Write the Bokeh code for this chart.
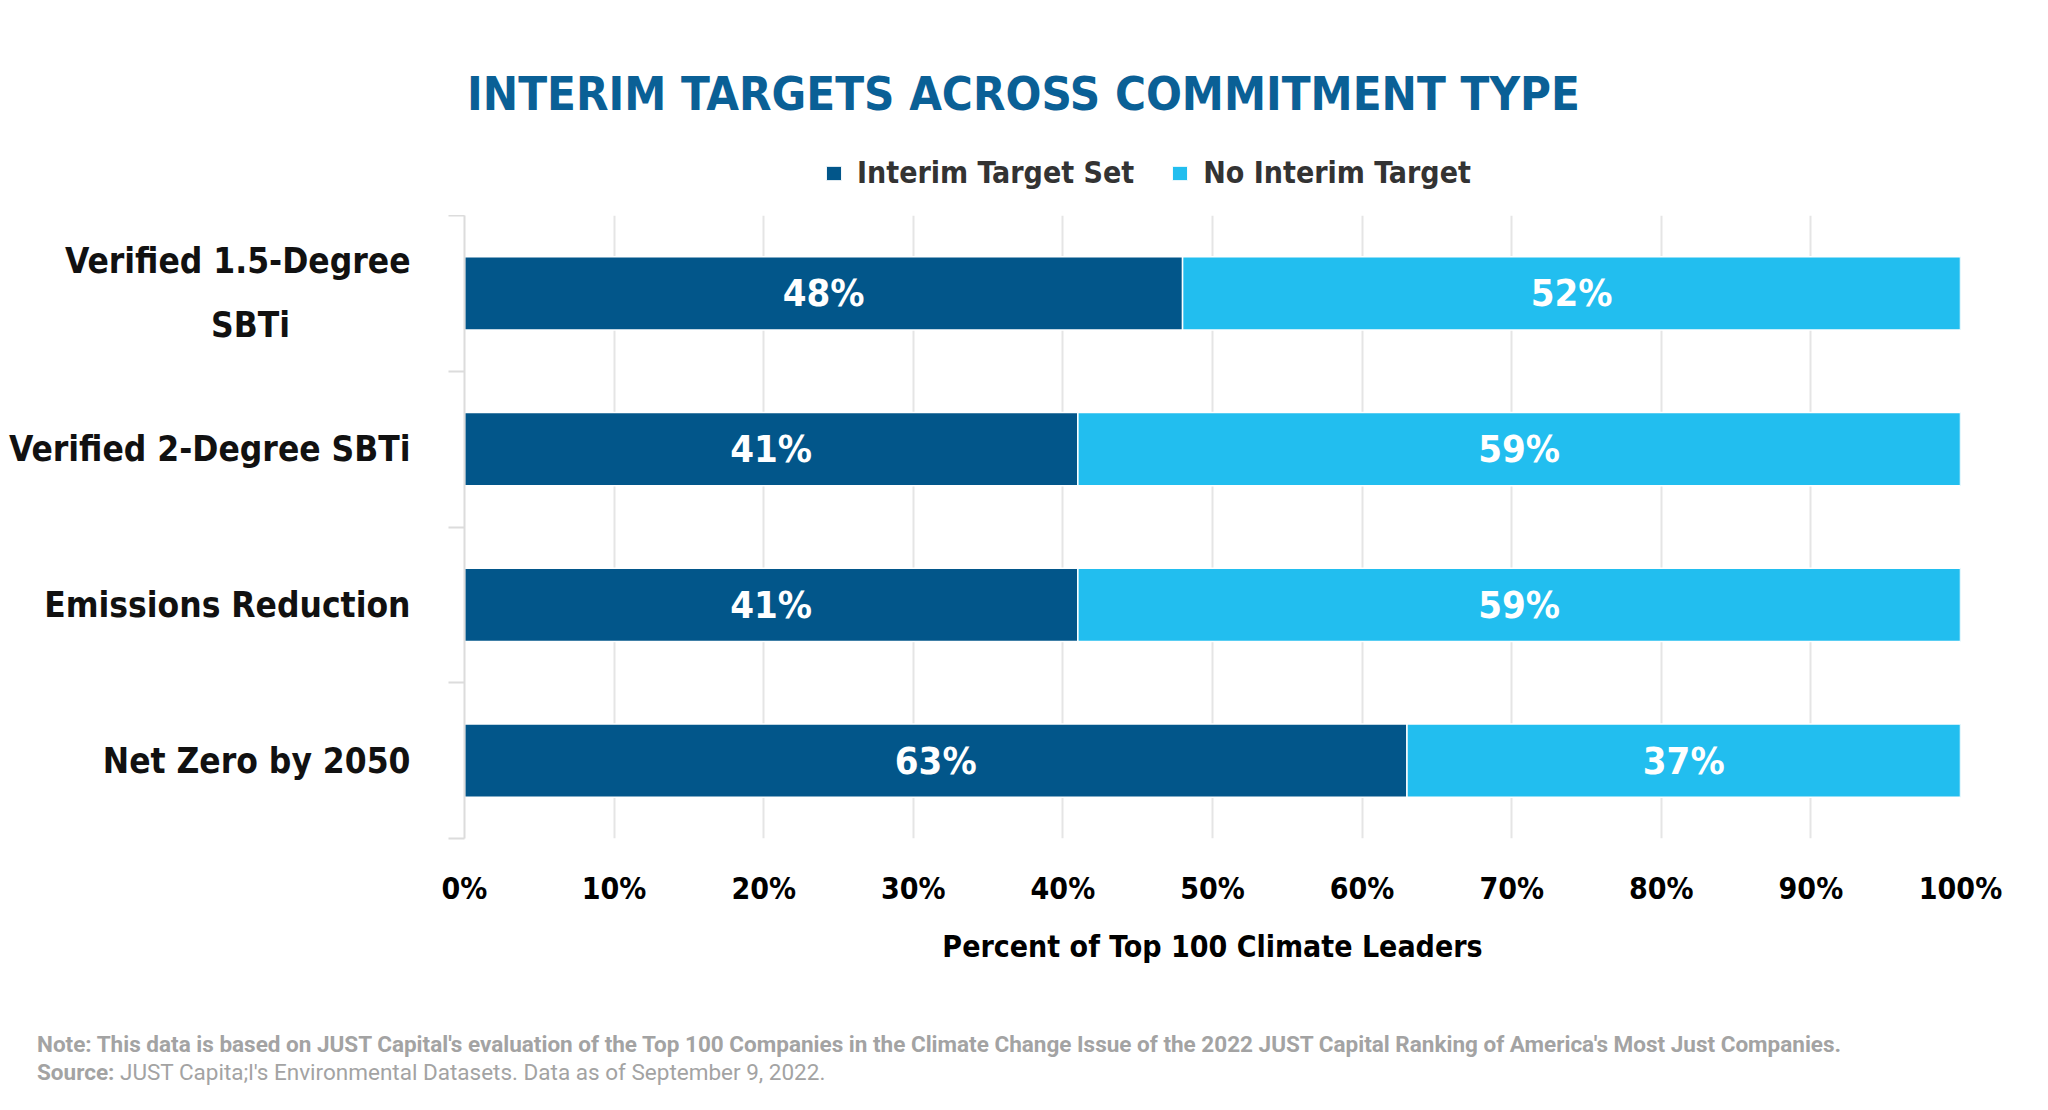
import json
import html
from bokeh.plotting import figure
from bokeh.layouts import column
from bokeh.models import (ColumnDataSource, FactorRange, Range1d, LinearAxis, CategoricalAxis,
                          FixedTicker, PrintfTickFormatter, CustomJSTickFormatter,
                          Legend, LegendItem, Label, Div)
from bokeh.core.properties import value
from bokeh.embed import file_html
from bokeh.resources import INLINE

# ---------------- data ----------------
categories = ["Verified 1.5-Degree SBTi", "Verified 2-Degree SBTi", "Emissions Reduction", "Net Zero by 2050"]
NB = "\u00a0"
category_display = ["Verified 1.5-Degree\nSBTi" + NB * 11, "Verified 2-Degree SBTi",
                    "Emissions Reduction", "Net Zero by 2050"]
interim_target_set = [48, 41, 41, 63]
no_interim_target = [52, 59, 59, 37]
x_ticks = [0, 10, 20, 30, 40, 50, 60, 70, 80, 90, 100]
series_names = ["Interim Target Set", "No Interim Target"]

title_text = "INTERIM TARGETS ACROSS COMMITMENT TYPE"
x_title = "Percent of Top 100 Climate Leaders"
note_text = ("Note: This data is based on JUST Capital's evaluation of the Top 100 Companies in the "
             "Climate Change Issue of the 2022 JUST Capital Ranking of America's Most Just Companies.")
source_bold = "Source:"
source_text = "JUST Capita;l's Environmental Datasets. Data as of September 9, 2022."

# ---------------- style ----------------
DARK = "#02568a"
LIGHT = "#22beef"
TITLE_C = "#0a6096"
COND = "'DejaVu Sans Condensed', 'Liberation Sans Narrow', 'Noto Sans', sans-serif"
NOTE_FONT = "Roboto"
NOTE_C = "#a3a3a3"

W = 2040
H_TOP, H_MAIN, H_NOTES = 215, 800, 85
LEFT, FW, FH = 464, 1496, 623
RIGHT = W - LEFT - FW

# ---------------- header strip: title + legend ----------------
head = figure(width=W, height=H_TOP, output_backend="svg", toolbar_location=None,
              x_range=Range1d(0, 1), y_range=Range1d(0, 1),
              x_axis_location=None, y_axis_location=None,
              min_border_left=LEFT, min_border_right=RIGHT, min_border_top=0, min_border_bottom=0)
head.outline_line_color = None
head.xgrid.visible = False
head.ygrid.visible = False

head.add_layout(Label(x=1023 - LEFT, y=H_TOP - 112 + 19, x_units="screen", y_units="screen",
                      text=title_text, text_align="center", text_baseline="alphabetic",
                      text_font=COND, text_font_style="bold", text_font_size="47px",
                      text_color=TITLE_C))

# legend keys (zero-size bars that only carry the series styles)
k1 = head.hbar(y=[0], left=[0], right=[0], height=0, fill_color=DARK, line_color="white")
k2 = head.hbar(y=[0], left=[0], right=[0], height=0, fill_color=LIGHT, line_color="white")
leg = Legend(items=[LegendItem(label=series_names[0], renderers=[k1]),
                    LegendItem(label=series_names[1], renderers=[k2])],
             orientation="horizontal", location=(824 - LEFT, 25),
             glyph_width=19, glyph_height=18, label_standoff=14, spacing=36,
             margin=0, padding=0, border_line_color=None, background_fill_alpha=0,
             label_text_font=COND, label_text_font_style="bold",
             label_text_font_size="30px", label_text_color="#333333")
head.add_layout(leg, "center")

# ---------------- main chart ----------------
src = ColumnDataSource(dict(
    cat=categories,
    a0=[0] * len(categories),
    a1=interim_target_set,
    b1=[a + b for a, b in zip(interim_target_set, no_interim_target)],
    amid=[a / 2 for a in interim_target_set],
    bmid=[a + b / 2 for a, b in zip(interim_target_set, no_interim_target)],
    alab=[f"{v}%" for v in interim_target_set],
    blab=[f"{v}%" for v in no_interim_target],
))

p = figure(width=W, height=H_MAIN, output_backend="svg", toolbar_location=None,
           x_range=Range1d(0, 100), y_range=FactorRange(*reversed(categories)),
           x_axis_location=None, y_axis_location=None,
           min_border_left=LEFT, min_border_top=0,
           min_border_right=RIGHT, min_border_bottom=H_MAIN - FH)
p.outline_line_color = None
p.background_fill_color = "white"
p.border_fill_color = "white"

r1 = p.hbar(y="cat", left="a0", right="a1", height=0.47, source=src,
            fill_color=DARK, line_color="white", line_width=1.5)
r2 = p.hbar(y="cat", left="a1", right="b1", height=0.47, source=src,
            fill_color=LIGHT, line_color="white", line_width=1.5)

for xcol, tcol in (("amid", "alab"), ("bmid", "blab")):
    p.text(x=xcol, y="cat", text=tcol, source=src, text_color="white",
           text_font=value(COND), text_font_style="bold", text_font_size="38px",
           text_align="center", text_baseline="middle")

# x axis
xa = LinearAxis(ticker=FixedTicker(ticks=x_ticks), formatter=PrintfTickFormatter(format="%d%%"))
xa.axis_line_color = None
xa.major_tick_line_color = None
xa.minor_tick_line_color = None
xa.major_label_text_font = COND
xa.major_label_text_font_style = "bold"
xa.major_label_text_font_size = "30px"
xa.major_label_text_color = "black"
xa.major_label_standoff = 26
xa.axis_label = x_title
xa.axis_label_text_font = COND
xa.axis_label_text_font_style = "bold"
xa.axis_label_text_font_size = "30px"
xa.axis_label_text_color = "black"
xa.axis_label_standoff = 20
p.add_layout(xa, "below")

# y axis: boundary ticks (nearest to the frame) + category labels
ya_ticks = LinearAxis(ticker=FixedTicker(ticks=list(range(len(categories) + 1))),
                      formatter=CustomJSTickFormatter(code="return ''"))
ya_ticks.axis_line_color = "#dcdcdc"
ya_ticks.axis_line_width = 2
ya_ticks.major_tick_line_color = "#dcdcdc"
ya_ticks.major_tick_line_width = 2
ya_ticks.major_tick_out = 16
ya_ticks.major_tick_in = 0
ya_ticks.minor_tick_line_color = None
ya_ticks.major_label_standoff = 0
p.add_layout(ya_ticks, "left")

wrap_map = json.dumps(dict(zip(categories, category_display)))
ya = CategoricalAxis(formatter=CustomJSTickFormatter(
    code=f"const m = {wrap_map}; return (tick in m) ? m[tick] : tick;"))
ya.axis_line_color = None
ya.major_tick_line_color = None
ya.major_label_text_font = COND
ya.major_label_text_font_style = "bold"
ya.major_label_text_font_size = "35px"
ya.major_label_text_color = "#111111"
ya.major_label_text_line_height = 1.6
ya.major_label_standoff = 32
p.add_layout(ya, "left")

p.xgrid.ticker = FixedTicker(ticks=x_ticks)
p.xgrid.grid_line_color = "#e5e5e5"
p.xgrid.grid_line_width = 2
p.ygrid.grid_line_color = None

# ---------------- notes ----------------
notes = Div(text=(f"<b>{html.escape(note_text)}</b><br>"
                  f"<b>{html.escape(source_bold)}</b> {html.escape(source_text)}"),
            width=W, height=H_NOTES, margin=0,
            styles={"font-family": NOTE_FONT, "font-size": "22.5px", "line-height": "28px",
                    "color": NOTE_C, "padding-top": "15px", "padding-left": "37px",
                    "box-sizing": "border-box", "white-space": "nowrap"})

page = column(head, p, notes, spacing=0)
open("out.html", "w").write(file_html(page, INLINE))
